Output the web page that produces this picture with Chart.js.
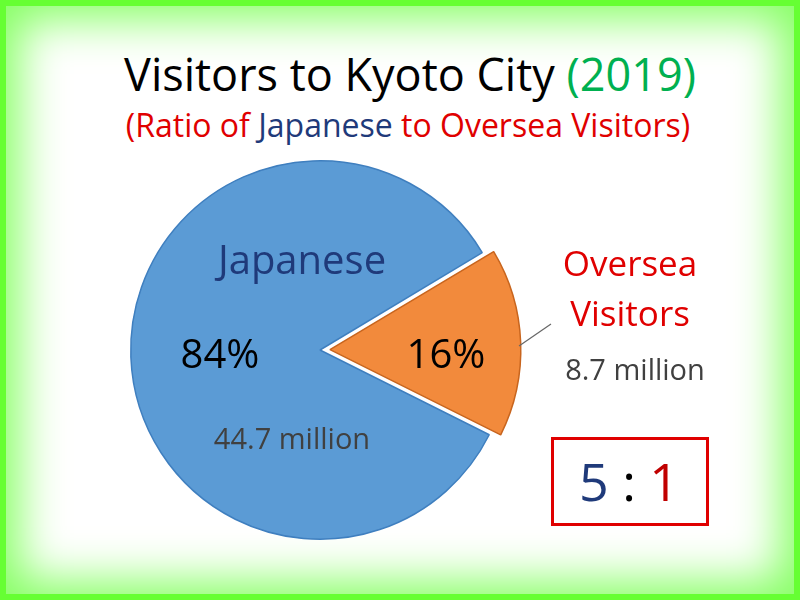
<!DOCTYPE html>
<html>
<head>
<meta charset="utf-8">
<script src="https://cdn.jsdelivr.net/npm/chart.js@4/dist/chart.umd.min.js"></script>
<style>
  body { margin: 0; width: 800px; height: 600px; overflow: hidden; font-family: "Open Sans", "Noto Sans", sans-serif; }
  #frame { position: absolute; left: 0; top: 0; width: 800px; height: 600px; background: #fff;
    box-shadow: inset 0 0 0 6px #66ff33, inset 0 0 45px 20px #88ff66; }
  .t { position: absolute; white-space: nowrap; transform: translate(-50%, -50%); }
  #wrap { position: absolute; left: 110px; top: 140px; width: 420px; height: 420px; }
  #box { position: absolute; left: 551px; top: 437px; width: 152px; height: 83px; border: 3px solid #e00000; background: #fff; }
</style>
</head>
<body>
<div id="frame"></div>
<div class="t" style="left:410px;top:73px;font-size:45px;color:#000">Visitors to Kyoto City <span style="color:#00b050">(2019)</span></div>
<div class="t" style="left:408px;top:124px;font-size:32px;color:#e00000">(Ratio of <span style="color:#1f3a7a">Japanese</span> to Oversea Visitors)</div>
<div id="wrap"><canvas id="c"></canvas></div>
<svg style="position:absolute;left:0;top:0" width="800" height="600"><line x1="551" y1="324" x2="519" y2="346" stroke="#666" stroke-width="1.2"/></svg>
<div class="t" id="lbl0" style="left:302px;top:258px;font-size:40px;color:#1f3a7a"></div>
<div class="t" id="pct0" style="left:220px;top:352px;font-size:40px;color:#000"></div>
<div class="t" id="num0" style="left:292px;top:437px;font-size:29px;color:#404040"></div>
<div class="t" id="pct1" style="left:446px;top:352px;font-size:40px;color:#000"></div>
<div class="t" id="lbl1" style="left:630px;top:288px;font-size:35px;color:#e00000;text-align:center;line-height:50px"></div>
<div class="t" id="num1" style="left:635px;top:368px;font-size:29px;color:#404040"></div>
<div id="box"></div>
<div class="t" style="left:629px;top:480px;font-size:52px;color:#1f3a7a">5 <span style="color:#000">:</span> <span style="color:#c00000">1</span></div>
<script>
const labels = ["Oversea Visitors", "Japanese"];
const shares = [16, 84];
const millions = [8.7, 44.7];
const colors = ["#f28a3c", "#5b9bd5"];

document.getElementById("lbl0").textContent = labels[1];
document.getElementById("pct0").textContent = shares[1] + "%";
document.getElementById("num0").textContent = millions[1] + " million";
document.getElementById("pct1").textContent = shares[0] + "%";
document.getElementById("lbl1").innerHTML = "Oversea<br>Visitors";
document.getElementById("num1").textContent = millions[0] + " million";

new Chart(document.getElementById("c"), {
  type: "pie",
  data: {
    labels: labels,
    datasets: [{
      data: shares,
      backgroundColor: colors,
      borderColor: ["#c8651e", "#3f7fbf"],
      borderWidth: 1.5,
      offset: [40, 0]
    }]
  },
  options: {
    responsive: true,
    maintainAspectRatio: false,
    animation: false,
    rotation: 59,
    layout: { padding: 0 },
    plugins: { legend: { display: false }, tooltip: { enabled: false } }
  }
});
</script>
</body>
</html>
